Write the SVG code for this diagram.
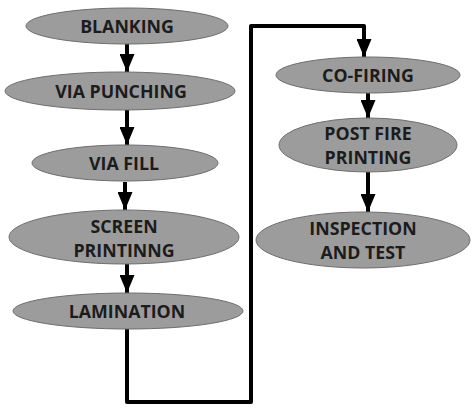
<svg xmlns="http://www.w3.org/2000/svg" width="474" height="413" viewBox="0 0 474 413">
<style>
.n{fill:#9c9c9c;stroke:#6e6e6e;stroke-width:1}
.t{font-family:"Open Sans","Liberation Sans",sans-serif;font-weight:bold;font-size:17.8px;fill:#1c1c1c;text-anchor:middle;dominant-baseline:central}
.c{fill:none;stroke:#000;stroke-width:4;stroke-linejoin:round}
</style>
<defs>
<marker id="ah" markerUnits="userSpaceOnUse" markerWidth="18" markerHeight="15" refX="18" refY="7.5" orient="auto">
<path d="M0,0 L18,7.5 L0,15 Z" fill="#000"/>
</marker>
</defs>
<rect width="474" height="413" fill="#fff"/>
<g id="connectors">
<path class="c" d="M127,44 V72" marker-end="url(#ah)"/>
<path class="c" d="M127,110 V145" marker-end="url(#ah)"/>
<path class="c" d="M125,182 V210" marker-end="url(#ah)"/>
<path class="c" d="M127,264 V293" marker-end="url(#ah)"/>
<path class="c" d="M127,329 V402 H251 V26 H364 V57" marker-end="url(#ah)"/>
<path class="c" d="M368,93 V118" marker-end="url(#ah)"/>
<path class="c" d="M368,172 V212" marker-end="url(#ah)"/>
</g>
<g id="blanking"><ellipse class="n" cx="127" cy="26" rx="101" ry="18"/><text class="t" x="127" y="26">BLANKING</text></g>
<g id="via-punching"><ellipse class="n" cx="120" cy="91" rx="115" ry="19"/><text class="t" x="121" y="91">VIA PUNCHING</text></g>
<g id="via-fill"><ellipse class="n" cx="125" cy="163" rx="93" ry="18"/><text class="t" x="124" y="163">VIA FILL</text></g>
<g id="screen-printing"><ellipse class="n" cx="124" cy="237" rx="115" ry="27"/><text class="t" x="124" y="226">SCREEN</text><text class="t" x="124" y="250">PRINTINNG</text></g>
<g id="lamination"><ellipse class="n" cx="128" cy="311" rx="115" ry="18"/><text class="t" x="127" y="311">LAMINATION</text></g>
<g id="co-firing"><ellipse class="n" cx="368" cy="75" rx="92" ry="18"/><text class="t" x="368" y="75">CO-FIRING</text></g>
<g id="post-fire-printing"><ellipse class="n" cx="368" cy="145" rx="89" ry="27"/><text class="t" x="368" y="133">POST FIRE</text><text class="t" x="368" y="157">PRINTING</text></g>
<g id="inspection"><ellipse class="n" cx="363" cy="240" rx="107" ry="28"/><text class="t" x="363" y="228">INSPECTION</text><text class="t" x="363" y="252">AND TEST</text></g>
</svg>
